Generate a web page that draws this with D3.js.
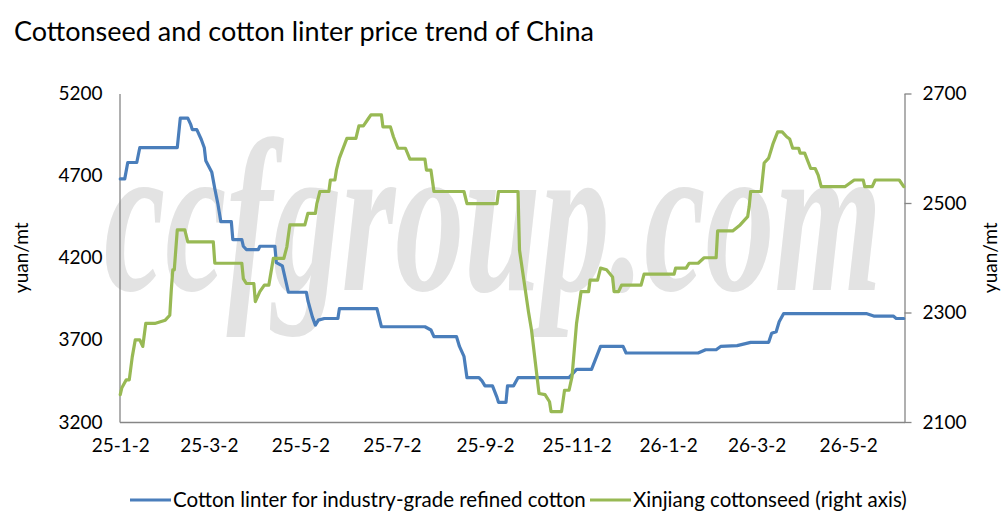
<!DOCTYPE html>
<html>
<head>
<meta charset="utf-8">
<script src="https://cdn.jsdelivr.net/npm/d3@7/dist/d3.min.js"></script>
<style>
  html, body { margin: 0; padding: 0; background: #fff; }
  svg { display: block; }
  text { font-family: Lato, "Open Sans", sans-serif; fill: #000; }
</style>
</head>
<body>
<svg id="chart" width="1004" height="532"></svg>
<script>
// ---------------- DATA ----------------
const chartTitle = "Cottonseed and cotton linter price trend of China";
const seriesNames = ["Cotton linter for industry-grade refined cotton", "Xinjiang cottonseed (right axis)"];

const linterDates = [
  "2025-01-02","2025-01-05","2025-01-07","2025-01-13","2025-01-15","2025-02-09","2025-02-11","2025-02-16",
  "2025-02-18","2025-02-19","2025-02-22","2025-02-25","2025-02-27","2025-02-28","2025-03-04","2025-03-06",
  "2025-03-08","2025-03-10","2025-03-17","2025-03-18","2025-03-24","2025-03-25","2025-03-27","2025-04-04",
  "2025-04-05","2025-04-15","2025-04-16","2025-04-20","2025-04-24","2025-05-06","2025-05-07","2025-05-10",
  "2025-05-12","2025-05-14","2025-05-18","2025-05-27","2025-05-28","2025-06-22","2025-06-25","2025-07-24",
  "2025-07-28","2025-07-30","2025-08-14","2025-08-16","2025-08-19","2025-08-21","2025-08-29","2025-08-31",
  "2025-09-02","2025-09-07","2025-09-10","2025-09-11","2025-09-16","2025-09-17","2025-09-21","2025-09-24",
  "2025-10-28","2025-10-30","2025-11-02","2025-11-12","2025-11-18","2025-12-03","2025-12-05","2026-01-22",
  "2026-01-27","2026-02-03","2026-02-06","2026-02-17","2026-02-26","2026-03-10","2026-03-12","2026-03-15",
  "2026-03-17","2026-03-20","2026-05-14","2026-05-19","2026-06-01","2026-06-03","2026-06-08"
];
const linterValues = [
  4680,4680,4780,4780,4870,4870,5050,5050,
  5010,4980,4980,4920,4870,4790,4720,4620,
  4530,4420,4420,4310,4310,4270,4250,4250,
  4270,4270,4170,4150,3990,3990,3940,3840,
  3790,3820,3830,3830,3890,3890,3780,3780,
  3760,3720,3720,3660,3600,3470,3470,3450,
  3420,3420,3350,3320,3320,3420,3420,3470,
  3470,3490,3520,3520,3660,3660,3620,3620,
  3640,3640,3660,3665,3685,3685,3740,3750,
  3810,3860,3860,3845,3845,3830,3830
];

const cottonseedDates = [
  "2025-01-02","2025-01-03","2025-01-06","2025-01-08","2025-01-10","2025-01-12","2025-01-15","2025-01-17",
  "2025-01-19","2025-01-25","2025-02-01","2025-02-04","2025-02-05","2025-02-06","2025-02-07","2025-02-09",
  "2025-02-14","2025-02-16","2025-03-05","2025-03-06","2025-03-24","2025-03-25","2025-03-27","2025-04-01",
  "2025-04-02","2025-04-05","2025-04-08","2025-04-11","2025-04-14","2025-04-21","2025-04-23","2025-04-25",
  "2025-05-05","2025-05-07","2025-05-12","2025-05-13","2025-05-15","2025-05-21","2025-05-22","2025-05-25",
  "2025-05-26","2025-05-28","2025-06-02","2025-06-08","2025-06-10","2025-06-13","2025-06-16","2025-06-18",
  "2025-06-25","2025-06-26","2025-07-01","2025-07-03","2025-07-06","2025-07-11","2025-07-14","2025-07-24",
  "2025-07-25","2025-07-28","2025-07-30","2025-08-19","2025-08-21","2025-09-10","2025-09-11","2025-09-24",
  "2025-09-25","2025-10-01","2025-10-03","2025-10-08","2025-10-12","2025-10-15","2025-10-16","2025-10-23",
  "2025-10-25","2025-10-28","2025-10-30","2025-11-02","2025-11-05","2025-11-10","2025-11-11","2025-11-16",
  "2025-11-18","2025-11-22","2025-11-26","2025-11-27","2025-11-30","2025-12-02","2025-12-15","2025-12-17",
  "2026-01-06","2026-01-07","2026-01-14","2026-01-16","2026-01-22","2026-01-26","2026-02-03","2026-02-04",
  "2026-02-14","2026-02-19","2026-02-24","2026-02-25","2026-02-26","2026-03-05","2026-03-07","2026-03-10",
  "2026-03-12","2026-03-13","2026-03-16","2026-03-19","2026-03-22","2026-03-24","2026-03-26","2026-03-30",
  "2026-03-31","2026-04-03","2026-04-07","2026-04-10","2026-04-12","2026-04-14","2026-04-30","2026-05-06",
  "2026-05-12","2026-05-13","2026-05-18","2026-05-20","2026-06-05","2026-06-08"
];
const cottonseedValues = [
  2150,2162,2177,2177,2219,2250,2250,2238,
  2280,2280,2286,2295,2341,2378,2378,2451,
  2451,2429,2429,2390,2390,2362,2353,2353,
  2320,2338,2350,2350,2399,2399,2420,2460,
  2460,2481,2481,2499,2521,2521,2542,2542,
  2560,2582,2618,2618,2641,2641,2653,2661,
  2661,2639,2639,2621,2600,2600,2580,2580,
  2560,2560,2521,2521,2499,2499,2521,2521,
  2414,2301,2268,2152,2150,2137,2119,2119,
  2158,2158,2183,2280,2338,2338,2359,2359,
  2381,2378,2365,2338,2338,2350,2350,2370,
  2370,2381,2381,2390,2390,2400,2400,2449,
  2449,2460,2475,2493,2521,2521,2573,2582,
  2600,2609,2630,2630,2621,2617,2600,2600,
  2591,2591,2563,2563,2551,2530,2530,2542,
  2542,2530,2530,2542,2542,2530
];

const leftTicks = [3200, 3700, 4200, 4700, 5200];
const rightTicks = [2100, 2300, 2500, 2700];
const xTickDates = ["2025-01-02","2025-03-02","2025-05-02","2025-07-02","2025-09-02","2025-11-02","2026-01-02","2026-03-02","2026-05-02"];
const xDomain = ["2025-01-01T12:00", "2026-06-08T12:00"];
const axisTitle = "yuan/mt";
const watermark = "ccfgroup.com";

// ---------------- CHART ----------------
const parse = d3.utcParse("%Y-%m-%d");
const parseT = d3.utcParse("%Y-%m-%dT%H:%M");
const fmt = d3.utcFormat("%y-%-m-%-d");

const svg = d3.select("#chart");
const plot = { left: 119.5, right: 904.5, top: 93.5, bottom: 422 };

const x = d3.scaleUtc().domain(xDomain.map(parseT)).range([plot.left, plot.right]);
const yL = d3.scaleLinear().domain([3200, 5200]).range([plot.bottom, plot.top]);
const yR = d3.scaleLinear().domain([2100, 2700]).range([plot.bottom, plot.top]);

const colors = ["#4a7ebb", "#98b954"];
const axisColor = "#868686";

// watermark (background decoration), horizontally condensed via a transform
const wmG = svg.append("g").attr("aria-hidden", "true");
const wm = wmG.append("text")
  .attr("x", 0).attr("y", 0)
  .style("font-family", "'Liberation Serif', 'DejaVu Serif', serif")
  .style("font-style", "italic")
  .style("font-weight", "bold")
  .style("font-size", "218px")
  .style("fill", "#e3e3e3")
  .text(watermark);
const wmLen = wm.node().getComputedTextLength() || 1;
const wmTargetW = 778;
wmG.attr("transform", `translate(104,290) scale(${wmTargetW / wmLen},1)`);

// title
svg.append("text")
  .attr("x", 14).attr("y", 41)
  .style("font-size", "27px")
  .text(chartTitle);

// axes
const gL = svg.append("g").attr("transform", `translate(${plot.left},0)`)
  .call(d3.axisLeft(yL).tickValues(leftTicks).tickSize(0).tickPadding(17).tickFormat(d3.format("d")));
const gR = svg.append("g").attr("transform", `translate(${plot.right},0)`)
  .call(d3.axisRight(yR).tickValues(rightTicks).tickSizeInner(7).tickSizeOuter(0).tickPadding(11).tickFormat(d3.format("d")));
const gB = svg.append("g").attr("transform", `translate(0,${plot.bottom})`)
  .call(d3.axisBottom(x).tickValues(xTickDates.map(parse)).tickSize(0).tickPadding(24).tickFormat(fmt));

[gL, gR, gB].forEach(g => {
  g.select(".domain").attr("stroke", axisColor).attr("stroke-width", 1.3);
  g.selectAll(".tick line").attr("stroke", axisColor).attr("stroke-width", 1.3);
  g.selectAll(".tick text").style("font-family", "Lato, sans-serif").style("font-size", "19px").attr("fill", "#000");
});
gB.selectAll(".tick text").attr("dy", "0.32em");

// axis titles
svg.append("text")
  .attr("transform", `translate(21,${(plot.top + plot.bottom) / 2}) rotate(-90)`)
  .attr("text-anchor", "middle").attr("dy", "0.35em")
  .style("font-size", "19px")
  .text(axisTitle);
svg.append("text")
  .attr("transform", `translate(990,${(plot.top + plot.bottom) / 2}) rotate(-90)`)
  .attr("text-anchor", "middle").attr("dy", "0.35em")
  .style("font-size", "19px")
  .text(axisTitle);

// lines
const linter = linterDates.map((d, i) => ({ date: parse(d), value: linterValues[i] }));
const seed = cottonseedDates.map((d, i) => ({ date: parse(d), value: cottonseedValues[i] }));

const lineL = d3.line().x(d => x(d.date)).y(d => yL(d.value));
const lineR = d3.line().x(d => x(d.date)).y(d => yR(d.value));

svg.append("path").datum(linter)
  .attr("d", lineL).attr("fill", "none")
  .attr("stroke", colors[0]).attr("stroke-width", 3.2)
  .attr("stroke-linejoin", "round").attr("stroke-linecap", "round");
svg.append("path").datum(seed)
  .attr("d", lineR).attr("fill", "none")
  .attr("stroke", colors[1]).attr("stroke-width", 3.2)
  .attr("stroke-linejoin", "round").attr("stroke-linecap", "round");

// legend
const legend = svg.append("g");
const legendItems = [
  { name: seriesNames[0], color: colors[0], x: 130 },
  { name: seriesNames[1], color: colors[1], x: 590 }
];
legendItems.forEach(it => {
  legend.append("line")
    .attr("x1", it.x).attr("x2", it.x + 41).attr("y1", 500).attr("y2", 500)
    .attr("stroke", it.color).attr("stroke-width", 3.2);
  legend.append("text")
    .attr("x", it.x + 43).attr("y", 500).attr("dy", "0.35em")
    .style("font-size", "20.5px")
    .text(it.name);
});
</script>
</body>
</html>
